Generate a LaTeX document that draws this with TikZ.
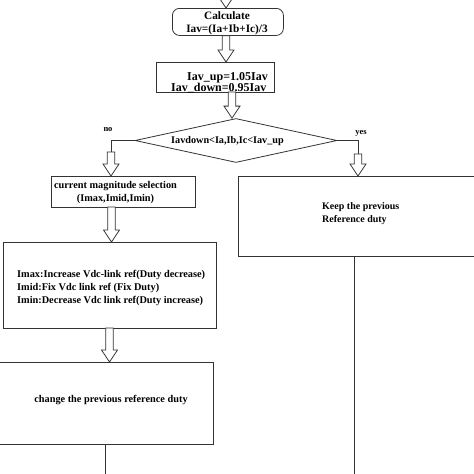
\documentclass[tikz,border=0pt]{standalone}
\usepackage{fontspec}
\setmainfont{Liberation Serif}
\usetikzlibrary{calc,shapes.geometric}
\begin{document}
\begin{tikzpicture}[x=1pt,y=-1pt,
  line/.style={draw=black!80, line width=0.8pt},
  box/.style={line, inner sep=0pt, anchor=north west},
  txt/.style={inner sep=0pt, font=\bfseries\fontsize{10.3}{13}\selectfont},
  keeptxt/.style={inner sep=0pt, font=\bfseries\fontsize{10}{12.5}\selectfont},
  calctxt/.style={inner sep=0pt, font=\bfseries\fontsize{11.3}{13}\selectfont},
  limtxt/.style={inner sep=0pt, font=\bfseries\fontsize{12}{12}\selectfont},
  diatxt/.style={inner sep=0pt, font=\bfseries\fontsize{10.2}{12}\selectfont},
  lbl/.style={inner sep=0pt, font=\bfseries\fontsize{8.5}{10}\selectfont},
  hollow/.style={line, fill=white, to path={let \p1=(\tikztostart), \p2=(\tikztotarget) in
     (\x1-3.8pt,\y1) -- (\x1-3.8pt,\y2+12pt) -- (\x1-8pt,\y2+12pt) -- (\x1,\y2)
     -- (\x1+8pt,\y2+12pt) -- (\x1+3.8pt,\y2+12pt) -- (\x1+3.8pt,\y1) -- cycle}}]
\useasboundingbox (0,0) rectangle (474,474);
\clip (0,0) rectangle (474,474);
\fill[white] (0,0) rectangle (474,474);

% boxes
\node[box, rounded corners=7pt, minimum width=111pt, minimum height=27pt] (calc) at (172,8) {};
\node[calctxt, anchor=base] (calct1) at (227,19.5) {Calculate};
\node[calctxt, anchor=base] (calct2) at (227,32.3) {Iav=(Ia+Ib+Ic)/3};

\node[box, minimum width=118pt, minimum height=30pt] (lim) at (156,62) {};
\node[limtxt, anchor=base] (limt1) at (227.5,80.5) {Iav\_up=1.05Iav};
\node[limtxt, anchor=base west] (limt2) at (171,91.5) {Iav\_down=0.95Iav};

\node[line, shape=diamond, aspect=4.6, inner sep=0pt, minimum width=202pt, minimum height=44pt] (dia) at (236,140.5) {};
\node[diatxt] (diat) at (227.5,141) {Iavdown<Ia,Ib,Ic<Iav\_up};

\node[box, minimum width=144pt, minimum height=31pt] (sel) at (51,176) {};
\node[txt, align=center] (selt) at (115.5,193) {current magnitude selection\\(Imax,Imid,Imin)};

\node[box, minimum width=213pt, minimum height=86pt] (big) at (3,242) {};
\node[txt, align=left, anchor=west] (bigt) at (17,288) {Imax:Increase Vdc-link ref(Duty decrease)\\Imid:Fix Vdc link ref (Fix Duty)\\Imin:Decrease Vdc link ref(Duty increase)};

\node[box, minimum width=216pt, minimum height=82pt] (chg) at (-3,362) {};
\node[txt] (chgt) at (111,400) {change the previous reference duty};

\node[box, minimum width=240pt, minimum height=80pt] (keep) at (238,176) {};
\node[keeptxt, align=left, anchor=west] (keept) at (322,213.5) {Keep the previous\\Reference duty};

% labels
\node[lbl] (no) at (108,130) {no};
\node[lbl] (yes) at (361,133) {yes};

% connectors
\coordinate (top) at (226,-20);
\draw[hollow] (top) to (calc.north -| top);
\draw[hollow] (calc.south -| top) to (lim.north -| top);
\coordinate (m2) at (232,92);
\draw[hollow] (m2) to (dia.north -| m2);

\coordinate (nob) at (111,152);
\draw[line] (dia.west) -| (nob);
\draw[hollow] (nob) to (sel.north -| nob);

\coordinate (yb) at (358,154);
\draw[line] (dia.east) -| (yb);
\draw[hollow] (yb) to (keep.north -| yb);

\coordinate (m3) at (111.5,207);
\draw[hollow] (m3) to (big.north -| m3);
\coordinate (m4) at (109.5,328);
\draw[hollow] (m4) to (chg.north -| m4);

\coordinate (e1) at (105,480);
\draw[line] (chg.south -| e1) -- (e1);
\coordinate (e2) at (354,480);
\draw[line] (keep.south -| e2) -- (e2);
\end{tikzpicture}
\end{document}
